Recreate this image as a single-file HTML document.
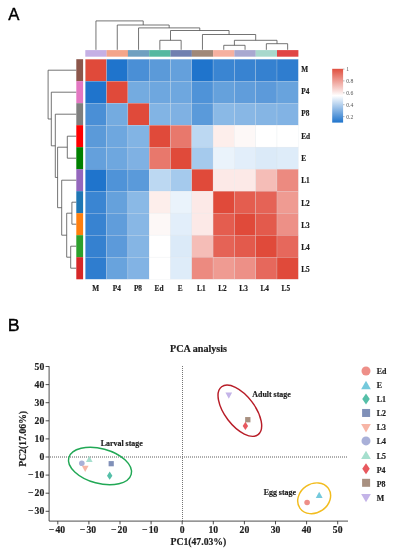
<!DOCTYPE html>
<html><head><meta charset="utf-8"><title>Figure</title>
<style>html,body{margin:0;padding:0;background:#fff}svg{display:block}text{font-family:"Liberation Serif",serif;font-weight:bold;fill:#1c1c1c;stroke:#1c1c1c;stroke-width:0.18px}.sans{font-family:"Liberation Sans",sans-serif;font-weight:normal;fill:#000;stroke:#000;stroke-width:0.35px}.lg{font-weight:normal;fill:#555;stroke:none}</style></head><body>
<svg width="395" height="550" viewBox="0 0 395 550">
<rect width="395" height="550" fill="#fff"/>
<text class="sans" transform="translate(8.3 19.8) scale(1.06 1)" font-size="15.8">A</text>
<text class="sans" transform="translate(7.8 330.6) scale(1.13 1)" font-size="15.8">B</text>
<g stroke="#dde3ea" stroke-opacity="0.5" stroke-width="0.42">
<rect x="85.30" y="59.20" width="21.30" height="22.00" fill="#e04a3a"/><rect x="106.60" y="59.20" width="21.30" height="22.00" fill="#1f74cc"/><rect x="127.90" y="59.20" width="21.30" height="22.00" fill="#4a8fd6"/><rect x="149.20" y="59.20" width="21.30" height="22.00" fill="#5b9ad9"/><rect x="170.50" y="59.20" width="21.30" height="22.00" fill="#64a0dc"/><rect x="191.80" y="59.20" width="21.30" height="22.00" fill="#1f74cc"/><rect x="213.10" y="59.20" width="21.30" height="22.00" fill="#3a85d2"/><rect x="234.40" y="59.20" width="21.30" height="22.00" fill="#3883d1"/><rect x="255.70" y="59.20" width="21.30" height="22.00" fill="#3581d0"/><rect x="277.00" y="59.20" width="21.30" height="22.00" fill="#2f7dcf"/>
<rect x="85.30" y="81.20" width="21.30" height="22.00" fill="#1f74cc"/><rect x="106.60" y="81.20" width="21.30" height="22.00" fill="#e04a3a"/><rect x="127.90" y="81.20" width="21.30" height="22.00" fill="#74abe0"/><rect x="149.20" y="81.20" width="21.30" height="22.00" fill="#6ea7df"/><rect x="170.50" y="81.20" width="21.30" height="22.00" fill="#6ea7df"/><rect x="191.80" y="81.20" width="21.30" height="22.00" fill="#4f93d8"/><rect x="213.10" y="81.20" width="21.30" height="22.00" fill="#65a1dc"/><rect x="234.40" y="81.20" width="21.30" height="22.00" fill="#609ddb"/><rect x="255.70" y="81.20" width="21.30" height="22.00" fill="#5c9ada"/><rect x="277.00" y="81.20" width="21.30" height="22.00" fill="#68a3dd"/>
<rect x="85.30" y="103.20" width="21.30" height="22.00" fill="#4a8fd6"/><rect x="106.60" y="103.20" width="21.30" height="22.00" fill="#74abe0"/><rect x="127.90" y="103.20" width="21.30" height="22.00" fill="#e04a3a"/><rect x="149.20" y="103.20" width="21.30" height="22.00" fill="#82b4e4"/><rect x="170.50" y="103.20" width="21.30" height="22.00" fill="#7fb1e3"/><rect x="191.80" y="103.20" width="21.30" height="22.00" fill="#5a9ada"/><rect x="213.10" y="103.20" width="21.30" height="22.00" fill="#8ab9e6"/><rect x="234.40" y="103.20" width="21.30" height="22.00" fill="#88b7e5"/><rect x="255.70" y="103.20" width="21.30" height="22.00" fill="#85b5e4"/><rect x="277.00" y="103.20" width="21.30" height="22.00" fill="#82b3e4"/>
<rect x="85.30" y="125.20" width="21.30" height="22.00" fill="#5b9ad9"/><rect x="106.60" y="125.20" width="21.30" height="22.00" fill="#6ea7df"/><rect x="127.90" y="125.20" width="21.30" height="22.00" fill="#82b4e4"/><rect x="149.20" y="125.20" width="21.30" height="22.00" fill="#e04a3a"/><rect x="170.50" y="125.20" width="21.30" height="22.00" fill="#e8786c"/><rect x="191.80" y="125.20" width="21.30" height="22.00" fill="#bcd8f2"/><rect x="213.10" y="125.20" width="21.30" height="22.00" fill="#fdeeeb"/><rect x="234.40" y="125.20" width="21.30" height="22.00" fill="#fdf8f7"/><rect x="255.70" y="125.20" width="21.30" height="22.00" fill="#ffffff"/><rect x="277.00" y="125.20" width="21.30" height="22.00" fill="#ffffff"/>
<rect x="85.30" y="147.20" width="21.30" height="22.00" fill="#64a0dc"/><rect x="106.60" y="147.20" width="21.30" height="22.00" fill="#6ea7df"/><rect x="127.90" y="147.20" width="21.30" height="22.00" fill="#7fb1e3"/><rect x="149.20" y="147.20" width="21.30" height="22.00" fill="#e8786c"/><rect x="170.50" y="147.20" width="21.30" height="22.00" fill="#e04a3a"/><rect x="191.80" y="147.20" width="21.30" height="22.00" fill="#a5caed"/><rect x="213.10" y="147.20" width="21.30" height="22.00" fill="#eaf3fb"/><rect x="234.40" y="147.20" width="21.30" height="22.00" fill="#e2eefa"/><rect x="255.70" y="147.20" width="21.30" height="22.00" fill="#dbeaf8"/><rect x="277.00" y="147.20" width="21.30" height="22.00" fill="#deecf9"/>
<rect x="85.30" y="169.20" width="21.30" height="22.00" fill="#1f74cc"/><rect x="106.60" y="169.20" width="21.30" height="22.00" fill="#4f93d8"/><rect x="127.90" y="169.20" width="21.30" height="22.00" fill="#5a9ada"/><rect x="149.20" y="169.20" width="21.30" height="22.00" fill="#bcd8f2"/><rect x="170.50" y="169.20" width="21.30" height="22.00" fill="#a5caed"/><rect x="191.80" y="169.20" width="21.30" height="22.00" fill="#e04a3a"/><rect x="213.10" y="169.20" width="21.30" height="22.00" fill="#fce9e7"/><rect x="234.40" y="169.20" width="21.30" height="22.00" fill="#fce9e7"/><rect x="255.70" y="169.20" width="21.30" height="22.00" fill="#f5bdb7"/><rect x="277.00" y="169.20" width="21.30" height="22.00" fill="#ec8a80"/>
<rect x="85.30" y="191.20" width="21.30" height="22.00" fill="#3a85d2"/><rect x="106.60" y="191.20" width="21.30" height="22.00" fill="#65a1dc"/><rect x="127.90" y="191.20" width="21.30" height="22.00" fill="#8ab9e6"/><rect x="149.20" y="191.20" width="21.30" height="22.00" fill="#fdeeeb"/><rect x="170.50" y="191.20" width="21.30" height="22.00" fill="#eaf3fb"/><rect x="191.80" y="191.20" width="21.30" height="22.00" fill="#fce9e7"/><rect x="213.10" y="191.20" width="21.30" height="22.00" fill="#e04a3a"/><rect x="234.40" y="191.20" width="21.30" height="22.00" fill="#e45d4f"/><rect x="255.70" y="191.20" width="21.30" height="22.00" fill="#e56356"/><rect x="277.00" y="191.20" width="21.30" height="22.00" fill="#ef9b92"/>
<rect x="85.30" y="213.20" width="21.30" height="22.00" fill="#3883d1"/><rect x="106.60" y="213.20" width="21.30" height="22.00" fill="#609ddb"/><rect x="127.90" y="213.20" width="21.30" height="22.00" fill="#88b7e5"/><rect x="149.20" y="213.20" width="21.30" height="22.00" fill="#fdf8f7"/><rect x="170.50" y="213.20" width="21.30" height="22.00" fill="#e2eefa"/><rect x="191.80" y="213.20" width="21.30" height="22.00" fill="#fce9e7"/><rect x="213.10" y="213.20" width="21.30" height="22.00" fill="#e45d4f"/><rect x="234.40" y="213.20" width="21.30" height="22.00" fill="#e04a3a"/><rect x="255.70" y="213.20" width="21.30" height="22.00" fill="#e35a4c"/><rect x="277.00" y="213.20" width="21.30" height="22.00" fill="#ed9087"/>
<rect x="85.30" y="235.20" width="21.30" height="22.00" fill="#3581d0"/><rect x="106.60" y="235.20" width="21.30" height="22.00" fill="#5c9ada"/><rect x="127.90" y="235.20" width="21.30" height="22.00" fill="#85b5e4"/><rect x="149.20" y="235.20" width="21.30" height="22.00" fill="#ffffff"/><rect x="170.50" y="235.20" width="21.30" height="22.00" fill="#dbeaf8"/><rect x="191.80" y="235.20" width="21.30" height="22.00" fill="#f5bdb7"/><rect x="213.10" y="235.20" width="21.30" height="22.00" fill="#e56356"/><rect x="234.40" y="235.20" width="21.30" height="22.00" fill="#e35a4c"/><rect x="255.70" y="235.20" width="21.30" height="22.00" fill="#e04a3a"/><rect x="277.00" y="235.20" width="21.30" height="22.00" fill="#e6685c"/>
<rect x="85.30" y="257.20" width="21.30" height="22.00" fill="#2f7dcf"/><rect x="106.60" y="257.20" width="21.30" height="22.00" fill="#68a3dd"/><rect x="127.90" y="257.20" width="21.30" height="22.00" fill="#82b3e4"/><rect x="149.20" y="257.20" width="21.30" height="22.00" fill="#ffffff"/><rect x="170.50" y="257.20" width="21.30" height="22.00" fill="#deecf9"/><rect x="191.80" y="257.20" width="21.30" height="22.00" fill="#ec8a80"/><rect x="213.10" y="257.20" width="21.30" height="22.00" fill="#ef9b92"/><rect x="234.40" y="257.20" width="21.30" height="22.00" fill="#ed9087"/><rect x="255.70" y="257.20" width="21.30" height="22.00" fill="#e6685c"/><rect x="277.00" y="257.20" width="21.30" height="22.00" fill="#e04a3a"/>
</g>
<rect x="85.30" y="50.1" width="21.40" height="6.6" fill="#c5b0e5"/><rect x="106.60" y="50.1" width="21.40" height="6.6" fill="#f4a58a"/><rect x="127.90" y="50.1" width="21.40" height="6.6" fill="#6fa0c0"/><rect x="149.20" y="50.1" width="21.40" height="6.6" fill="#55b8a0"/><rect x="170.50" y="50.1" width="21.40" height="6.6" fill="#7080b0"/><rect x="191.80" y="50.1" width="21.40" height="6.6" fill="#a08878"/><rect x="213.10" y="50.1" width="21.40" height="6.6" fill="#f5b0a0"/><rect x="234.40" y="50.1" width="21.40" height="6.6" fill="#a8a8d0"/><rect x="255.70" y="50.1" width="21.40" height="6.6" fill="#a8d8cc"/><rect x="277.00" y="50.1" width="21.40" height="6.6" fill="#e04545"/>
<rect x="76.3" y="59.20" width="6.8" height="22.10" fill="#8c564b"/><rect x="76.3" y="81.20" width="6.8" height="22.10" fill="#e377c2"/><rect x="76.3" y="103.20" width="6.8" height="22.10" fill="#7f7f7f"/><rect x="76.3" y="125.20" width="6.8" height="22.10" fill="#ff0000"/><rect x="76.3" y="147.20" width="6.8" height="22.10" fill="#008000"/><rect x="76.3" y="169.20" width="6.8" height="22.10" fill="#9467bd"/><rect x="76.3" y="191.20" width="6.8" height="22.10" fill="#1f77b4"/><rect x="76.3" y="213.20" width="6.8" height="22.10" fill="#ff7f0e"/><rect x="76.3" y="235.20" width="6.8" height="22.10" fill="#2ca02c"/><rect x="76.3" y="257.20" width="6.8" height="22.10" fill="#d62728"/>
<text x="95.70" y="290.6" font-size="7.3" text-anchor="middle">M</text><text x="116.83" y="290.6" font-size="7.3" text-anchor="middle">P4</text><text x="137.96" y="290.6" font-size="7.3" text-anchor="middle">P8</text><text x="159.09" y="290.6" font-size="7.3" text-anchor="middle">Ed</text><text x="180.22" y="290.6" font-size="7.3" text-anchor="middle">E</text><text x="201.35" y="290.6" font-size="7.3" text-anchor="middle">L1</text><text x="222.48" y="290.6" font-size="7.3" text-anchor="middle">L2</text><text x="243.61" y="290.6" font-size="7.3" text-anchor="middle">L3</text><text x="264.74" y="290.6" font-size="7.3" text-anchor="middle">L4</text><text x="285.87" y="290.6" font-size="7.3" text-anchor="middle">L5</text>
<text x="301.2" y="71.85" font-size="7.3">M</text><text x="301.2" y="94.13" font-size="7.3">P4</text><text x="301.2" y="116.41" font-size="7.3">P8</text><text x="301.2" y="138.69" font-size="7.3">Ed</text><text x="301.2" y="160.97" font-size="7.3">E</text><text x="301.2" y="183.25" font-size="7.3">L1</text><text x="301.2" y="205.53" font-size="7.3">L2</text><text x="301.2" y="227.81" font-size="7.3">L3</text><text x="301.2" y="250.09" font-size="7.3">L4</text><text x="301.2" y="272.37" font-size="7.3">L5</text>
<path d="M159.85 49.80V40.30H181.15V49.80M223.75 49.80V45.30H245.05V49.80M266.35 49.80V43.70H287.65V49.80M234.40 45.30V40.30H277.00V43.70M202.45 49.80V34.50H255.70V40.30M170.50 40.30V30.50H229.07V34.50M138.55 49.80V27.90H199.79V30.50M117.25 49.80V25.00H169.17V27.90M95.95 49.80V20.90H143.21V25.00" fill="none" stroke="#505050" stroke-width="0.8"/>
<path d="M76.20 136.20H67.30V158.20H76.20M76.20 202.20H71.90V224.20H76.20M76.20 246.20H70.70V268.20H76.20M71.90 213.20H66.70V257.20H70.70M76.20 180.20H61.70V235.20H66.70M67.30 147.20H57.60V207.70H61.70M76.20 114.20H55.30V177.45H57.60M76.20 92.20H51.30V145.82H55.30M76.20 70.20H48.10V119.01H51.30" fill="none" stroke="#505050" stroke-width="0.8"/>
<defs><linearGradient id="lg" x1="0" y1="0" x2="0" y2="1"><stop offset="0" stop-color="#e04f3f"/><stop offset="0.5" stop-color="#ffffff"/><stop offset="1" stop-color="#1f74cc"/></linearGradient></defs>
<rect x="332.2" y="68.8" width="10.9" height="53.8" fill="url(#lg)"/>
<path d="M343.1 69.1h1.4" stroke="#666" stroke-width="0.5"/><text class="lg" x="346.2" y="71.0" font-size="5.7">1</text><path d="M343.1 80.9h1.4" stroke="#666" stroke-width="0.5"/><text class="lg" x="346.2" y="82.8" font-size="5.7">0.8</text><path d="M343.1 92.8h1.4" stroke="#666" stroke-width="0.5"/><text class="lg" x="346.2" y="94.7" font-size="5.7">0.6</text><path d="M343.1 104.7h1.4" stroke="#666" stroke-width="0.5"/><text class="lg" x="346.2" y="106.6" font-size="5.7">0.4</text><path d="M343.1 116.6h1.4" stroke="#666" stroke-width="0.5"/><text class="lg" x="346.2" y="118.5" font-size="5.7">0.2</text>
<path d="M49.1 366.2V521.1H348" fill="none" stroke="#222" stroke-width="0.8"/>
<path d="M45.6 366.50H49.1M45.6 384.60H49.1M45.6 402.70H49.1M45.6 420.80H49.1M45.6 438.90H49.1M45.6 457.00H49.1M45.6 475.10H49.1M45.6 493.20H49.1M45.6 511.30H49.1M57.80 521.1V524.4M88.90 521.1V524.4M120.00 521.1V524.4M151.10 521.1V524.4M182.20 521.1V524.4M213.30 521.1V524.4M244.40 521.1V524.4M275.50 521.1V524.4M306.60 521.1V524.4M337.70 521.1V524.4" stroke="#222" stroke-width="0.8"/>
<text x="44.3" y="369.60" font-size="9.7" text-anchor="end">50</text><text x="44.3" y="387.70" font-size="9.7" text-anchor="end">40</text><text x="44.3" y="405.80" font-size="9.7" text-anchor="end">30</text><text x="44.3" y="423.90" font-size="9.7" text-anchor="end">20</text><text x="44.3" y="442.00" font-size="9.7" text-anchor="end">10</text><text x="44.3" y="460.10" font-size="9.7" text-anchor="end">0</text><text x="44.3" y="478.20" font-size="9.7" text-anchor="end">−<tspan dx="1">10</tspan></text><text x="44.3" y="496.30" font-size="9.7" text-anchor="end">−<tspan dx="1">20</tspan></text><text x="44.3" y="514.40" font-size="9.7" text-anchor="end">−<tspan dx="1">30</tspan></text>
<text x="56.90" y="532.6" font-size="9.7" text-anchor="middle">−<tspan dx="1.2">40</tspan></text><text x="88.00" y="532.6" font-size="9.7" text-anchor="middle">−<tspan dx="1.2">30</tspan></text><text x="119.10" y="532.6" font-size="9.7" text-anchor="middle">−<tspan dx="1.2">20</tspan></text><text x="150.20" y="532.6" font-size="9.7" text-anchor="middle">−<tspan dx="1.2">10</tspan></text><text x="182.20" y="532.6" font-size="9.7" text-anchor="middle">0</text><text x="213.30" y="532.6" font-size="9.7" text-anchor="middle">10</text><text x="244.40" y="532.6" font-size="9.7" text-anchor="middle">20</text><text x="275.50" y="532.6" font-size="9.7" text-anchor="middle">30</text><text x="306.60" y="532.6" font-size="9.7" text-anchor="middle">40</text><text x="337.70" y="532.6" font-size="9.7" text-anchor="middle">50</text>
<text x="198.4" y="544.9" font-size="9.7" text-anchor="middle">PC1(47.03%)</text>
<text transform="translate(25.5 438.8) rotate(-90)" font-size="9.7" text-anchor="middle">PC2(17.06%)</text>
<text x="198.5" y="351.7" font-size="10.1" text-anchor="middle" fill="#333">PCA analysis</text>
<path d="M182.5 366V521" stroke="#757575" stroke-width="1" stroke-dasharray="1 1" fill="none"/><path d="M50 457H348" stroke="#5c5c5c" stroke-width="1" stroke-dasharray="1 1" fill="none"/>
<ellipse cx="100" cy="466" rx="32.3" ry="17.4" transform="rotate(15 100 466)" fill="none" stroke="#21a855" stroke-width="1.45"/>
<ellipse cx="239.85" cy="410.7" rx="30.1" ry="15" transform="rotate(52.7 239.85 410.7)" fill="none" stroke="#b81d28" stroke-width="1.45"/>
<ellipse cx="314.15" cy="498.3" rx="17.35" ry="14.4" transform="rotate(-34.6 314.15 498.3)" fill="none" stroke="#f2bc1e" stroke-width="1.45"/>
<text x="100.8" y="445.9" font-size="7.9">Larval stage</text>
<text x="252.3" y="397.4" font-size="7.9">Adult stage</text>
<text x="263.7" y="495" font-size="7.9">Egg stage</text>
<circle cx="81.8" cy="463.2" r="2.8" fill="#a9b0d8"/><path d="M81.85 465.70H88.55L85.20 471.90Z" fill="#f7b5a6"/><path d="M85.95 462.10H92.65L89.30 455.90Z" fill="#a6dfce"/><rect x="108.60" y="461.10" width="5.2" height="5.2" fill="#8090b8"/><path d="M109.70 471.60L112.40 475.70L109.70 479.80L107.00 475.70Z" fill="#55bfa8"/><path d="M225.45 392.60H232.15L228.80 398.80Z" fill="#c4b4e8"/><rect x="245.15" y="417.05" width="5.3" height="5.3" fill="#a89080"/><path d="M245.40 421.80L248.10 425.90L245.40 430.00L242.70 425.90Z" fill="#e8595f"/><circle cx="307.1" cy="502.5" r="2.8" fill="#ee8f88"/><path d="M315.75 498.05H322.65L319.20 491.75Z" fill="#74c9dc"/>
<circle cx="366" cy="371.05" r="4.5" fill="#ee8f88"/><text x="376.8" y="373.80" font-size="7.9">Ed</text><path d="M361.15 389.17H370.85L366.00 380.87Z" fill="#74c9dc"/><text x="376.8" y="387.92" font-size="7.9">E</text><path d="M366.00 393.49L369.75 398.99L366.00 404.49L362.25 398.99Z" fill="#55bfa8"/><text x="376.8" y="402.04" font-size="7.9">L1</text><rect x="362.10" y="408.96" width="8.0" height="8.0" fill="#8090b8"/><text x="376.8" y="416.16" font-size="7.9">L2</text><path d="M361.15 424.08H370.85L366.00 432.38Z" fill="#f7b5a6"/><text x="376.8" y="430.28" font-size="7.9">L3</text><circle cx="366" cy="440.9" r="4.5" fill="#a9b0d8"/><text x="376.8" y="444.40" font-size="7.9">L4</text><path d="M361.15 459.02H370.85L366.00 450.72Z" fill="#a6dfce"/><text x="376.8" y="458.52" font-size="7.9">L5</text><path d="M366.00 463.34L369.75 468.84L366.00 474.34L362.25 468.84Z" fill="#e8595f"/><text x="376.8" y="472.64" font-size="7.9">P4</text><rect x="362.10" y="478.81" width="8.0" height="8.0" fill="#a89080"/><text x="376.8" y="486.76" font-size="7.9">P8</text><path d="M361.15 493.93H370.85L366.00 502.23Z" fill="#c4b4e8"/><text x="376.8" y="500.88" font-size="7.9">M</text>
</svg>
</body></html>
